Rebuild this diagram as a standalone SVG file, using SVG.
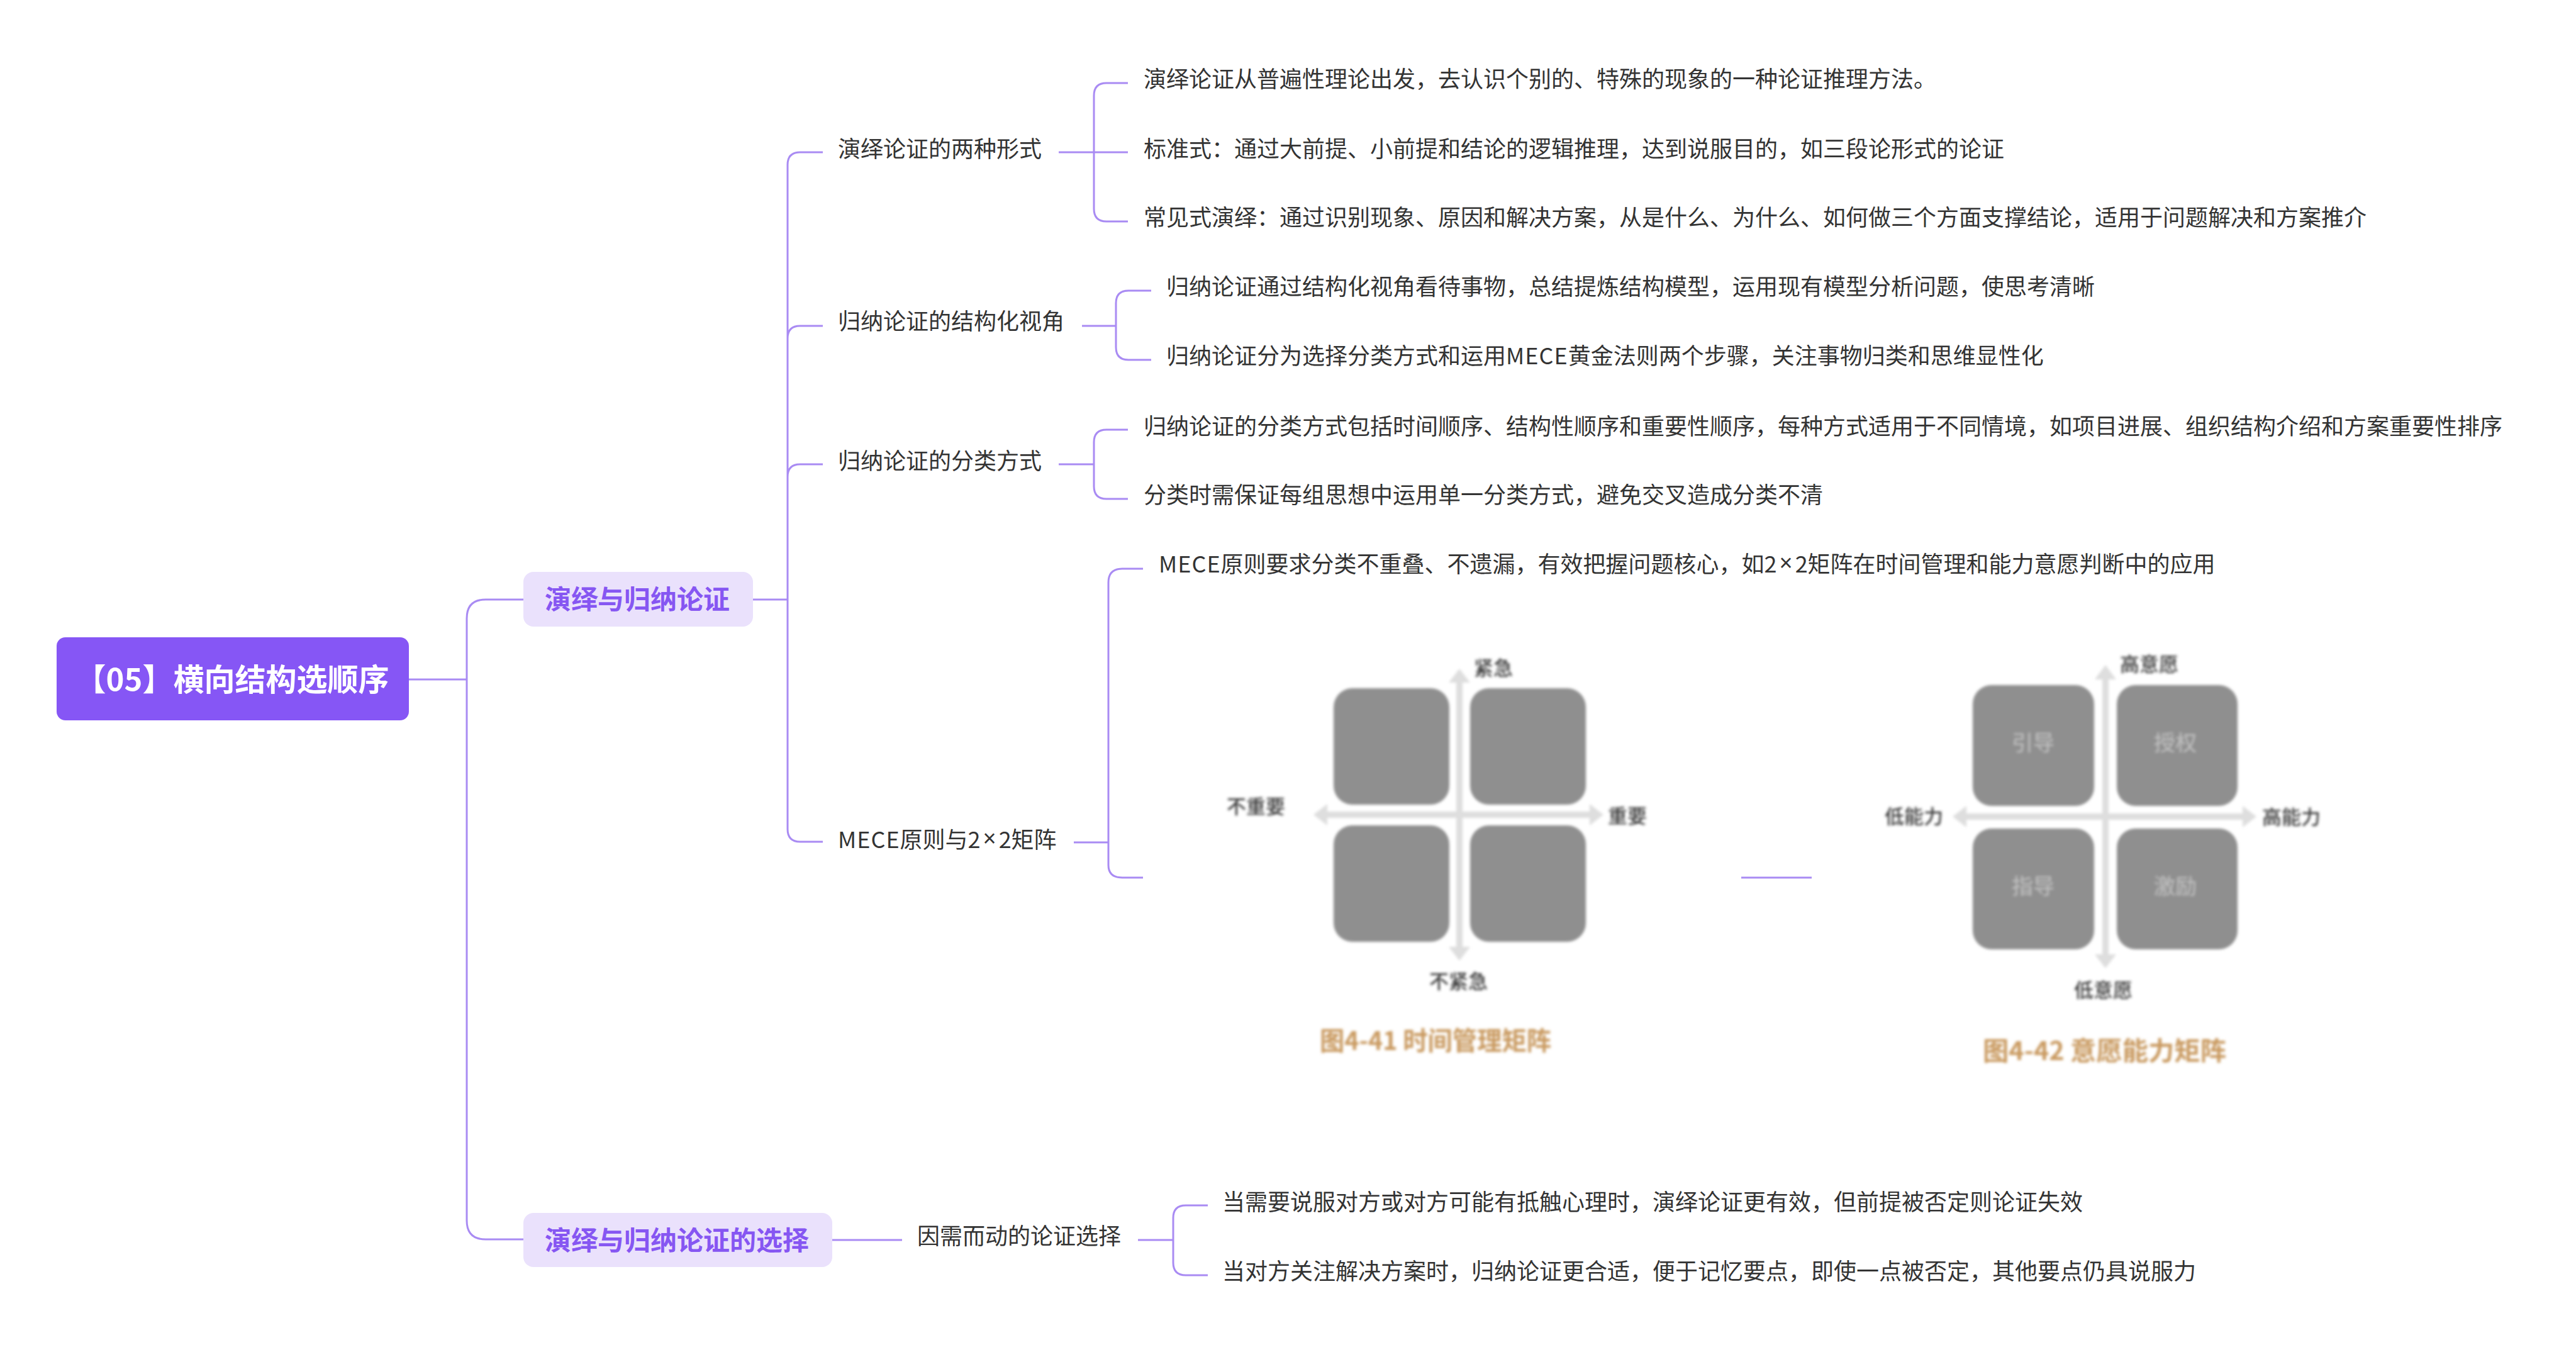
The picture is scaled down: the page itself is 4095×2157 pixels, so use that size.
<svg xmlns="http://www.w3.org/2000/svg" width="4095" height="2157" viewBox="0 0 4095 2157">
<defs>
<style>
text{font-family:"Noto Sans CJK SC","Noto Sans",sans-serif;dominant-baseline:central}
.c{fill:none;stroke:#a98bf3;stroke-width:3}
.t{font-size:36px;fill:#333}
.s{font-size:42px;font-weight:700;fill:#8656f2}
.sb{fill:#eae1fc}
.q{fill:#8f8f8f}
.a{fill:#dedede}
.l{font-size:31px;fill:#3a3a3a;font-weight:500}
.i{font-size:34px;fill:#c0c0c0}
.cap{font-size:41px;font-weight:700;fill:#c99a60}
.m{letter-spacing:1px}
.x{font-family:"Liberation Sans",sans-serif}
</style>
<filter id="b" x="-5%" y="-5%" width="110%" height="110%"><feGaussianBlur stdDeviation="2"/></filter>
</defs>
<rect width="4095" height="2157" fill="#fff"/>
<g id="connectors">
<path class="c" d="M650 1080H742M832 953H772Q742 953 742 983V1940Q742 1970 772 1970H832"/>
<path class="c" d="M1197 953H1252"/>
<path class="c" d="M1308 242H1272Q1252 242 1252 262V1318Q1252 1338 1272 1338H1308M1308 518H1272Q1252 518 1252 538M1308 738H1272Q1252 738 1252 758"/>
<path class="c" d="M1683 242H1793M1793 132H1759Q1739 132 1739 152V332Q1739 352 1759 352H1793"/>
<path class="c" d="M1720 518H1774M1830 462H1794Q1774 462 1774 482V552Q1774 572 1794 572H1830"/>
<path class="c" d="M1683 738H1739M1793 683H1759Q1739 683 1739 703V773Q1739 793 1759 793H1793"/>
<path class="c" d="M1707 1339H1762M1817 904H1784Q1762 904 1762 926V1375Q1762 1395 1784 1395H1817"/>
<path class="c" d="M2768 1395H2880"/>
<path class="c" d="M1323 1971H1434M1809 1971H1865M1920 1916H1885Q1865 1916 1865 1936V2007Q1865 2027 1885 2027H1920"/>
</g>
<g id="root"><rect x="90" y="1013" width="560" height="132" rx="14" fill="#8656f5"/><text x="369" y="1076" text-anchor="middle" font-size="49" font-weight="700" fill="#fff">【05】横向结构选顺序</text></g>
<g id="topic1"><rect class="sb" x="832" y="909" width="365" height="87" rx="16"/><text class="s" x="866" y="949">演绎与归纳论证</text></g>
<g id="topic2"><rect class="sb" x="832" y="1928" width="491" height="86" rx="16"/><text class="s" x="866" y="1968">演绎与归纳论证的选择</text></g>
<g id="n1"><text class="t" x="1332" y="234">演绎论证的两种形式</text></g>
<g id="n1a"><text class="t" x="1818" y="123">演绎论证从普遍性理论出发，去认识个别的、特殊的现象的一种论证推理方法。</text></g>
<g id="n1b"><text class="t" x="1818" y="234">标准式：通过大前提、小前提和结论的逻辑推理，达到说服目的，如三段论形式的论证</text></g>
<g id="n1c"><text class="t" x="1818" y="343">常见式演绎：通过识别现象、原因和解决方案，从是什么、为什么、如何做三个方面支撑结论，适用于问题解决和方案推介</text></g>
<g id="n2"><text class="t" x="1332" y="508">归纳论证的结构化视角</text></g>
<g id="n2a"><text class="t" x="1854" y="453">归纳论证通过结构化视角看待事物，总结提炼结构模型，运用现有模型分析问题，使思考清晰</text></g>
<g id="n2b"><text class="t" x="1854" y="563">归纳论证分为选择分类方式和运用<tspan class="m">MECE</tspan>黄金法则两个步骤，关注事物归类和思维显性化</text></g>
<g id="n3"><text class="t" x="1332" y="730">归纳论证的分类方式</text></g>
<g id="n3a"><text class="t" x="1818" y="675">归纳论证的分类方式包括时间顺序、结构性顺序和重要性顺序，每种方式适用于不同情境，如项目进展、组织结构介绍和方案重要性排序</text></g>
<g id="n3b"><text class="t" x="1818" y="784">分类时需保证每组思想中运用单一分类方式，避免交叉造成分类不清</text></g>
<g id="n4"><text class="t" x="1332" y="1332"><tspan class="m">MECE</tspan>原则与2<tspan class="x" dx="4">×</tspan><tspan dx="4">2</tspan>矩阵</text></g>
<g id="n4a"><text class="t" x="1842" y="894"><tspan class="m">MECE</tspan>原则要求分类不重叠、不遗漏，有效把握问题核心，如2<tspan class="x" dx="4">×</tspan><tspan dx="4">2</tspan>矩阵在时间管理和能力意愿判断中的应用</text></g>
<g id="n5"><text class="t" x="1458" y="1962">因需而动的论证选择</text></g>
<g id="n5a"><text class="t" x="1943" y="1908">当需要说服对方或对方可能有抵触心理时，演绎论证更有效，但前提被否定则论证失效</text></g>
<g id="n5b"><text class="t" x="1943" y="2018">当对方关注解决方案时，归纳论证更合适，便于记忆要点，即使一点被否定，其他要点仍具说服力</text></g>
<g id="fig1" filter="url(#b)">
<rect class="q" x="2120" y="1094" width="184" height="185" rx="30"/><rect class="q" x="2337" y="1094" width="184" height="185" rx="30"/><rect class="q" x="2120" y="1312" width="184" height="185" rx="30"/><rect class="q" x="2337" y="1312" width="184" height="185" rx="30"/>
<path class="a" d="M2320 1063L2337 1085H2325V1505H2337L2320 1527L2303 1505H2315V1085H2303Z"/>
<path class="a" d="M2088 1295L2110 1278V1290H2527V1278L2549 1295L2527 1312V1300H2110V1312Z"/>
<text class="l" x="2343" y="1059">紧急</text><text class="l" x="1950" y="1279">不重要</text><text class="l" x="2556" y="1294">重要</text><text class="l" x="2272" y="1557">不紧急</text>
<text class="cap" x="2098" y="1651" textLength="368" lengthAdjust="spacingAndGlyphs">图4-41 时间管理矩阵</text>
</g>
<g id="fig2" filter="url(#b)">
<rect class="q" x="3136" y="1089" width="193" height="192" rx="30"/><rect class="q" x="3365" y="1089" width="192" height="192" rx="30"/><rect class="q" x="3136" y="1317" width="193" height="192" rx="30"/><rect class="q" x="3365" y="1317" width="192" height="192" rx="30"/>
<path class="a" d="M3347 1057L3364 1080H3352V1517H3364L3347 1539L3330 1517H3342V1080H3330Z"/>
<path class="a" d="M3104 1298L3126 1281V1293H3565V1281L3587 1298L3565 1315V1303H3126V1315Z"/>
<text class="i" x="3232" y="1178" text-anchor="middle">引导</text><text class="i" x="3458" y="1178" text-anchor="middle">授权</text><text class="i" x="3232" y="1406" text-anchor="middle">指导</text><text class="i" x="3458" y="1406" text-anchor="middle">激励</text>
<text class="l" x="3370" y="1053">高意愿</text><text class="l" x="2996" y="1295">低能力</text><text class="l" x="3596" y="1296">高能力</text><text class="l" x="3297" y="1571">低意愿</text>
<text class="cap" x="3152" y="1667" textLength="387" lengthAdjust="spacingAndGlyphs">图4-42 意愿能力矩阵</text>
</g>
</svg>
